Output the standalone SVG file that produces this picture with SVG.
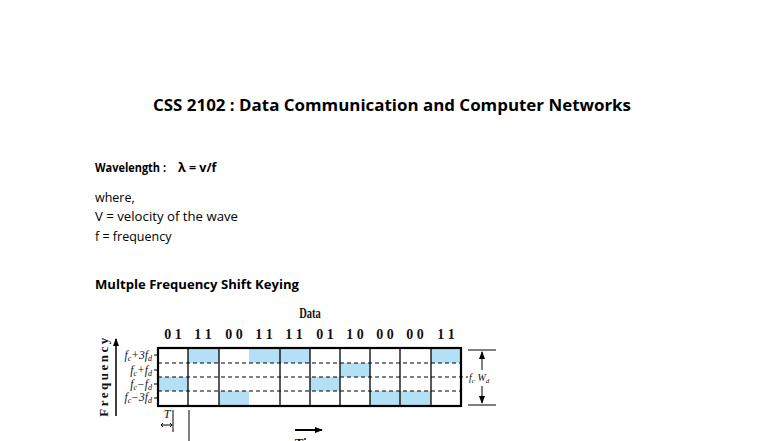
<svg xmlns="http://www.w3.org/2000/svg" width="784" height="441" viewBox="0 0 784 441">
<style>
.t{font-family:"Open Sans","Liberation Sans",Arial,sans-serif;fill:#000}
.s{font-family:"Liberation Serif","Times New Roman",serif;fill:#111}
.sh{fill:#b3e0f5}
.dash{stroke:#000;stroke-width:1;stroke-dasharray:4,3}
.v{stroke:#000;stroke-width:1.3}
</style>
<defs><marker id="ah" markerWidth="8" markerHeight="8" refX="7" refY="4" orient="auto" markerUnits="userSpaceOnUse"><path d="M0,1 L8,4 L0,7 Z" fill="#000"/></marker></defs>
<rect width="784" height="441" fill="#fff"/>
<text class="t" x="392" y="111" font-size="15.5" font-weight="bold" text-anchor="middle" textLength="478" lengthAdjust="spacingAndGlyphs">CSS 2102 : Data Communication and Computer Networks</text>
<text class="t" x="95" y="172" font-size="12.5" font-weight="bold" textLength="71" lengthAdjust="spacingAndGlyphs">Wavelength :</text>
<text class="t" x="178" y="172" font-size="12.5" font-weight="bold">λ = v/f</text>
<text class="t" x="95" y="202" font-size="12.5">where,</text>
<text class="t" x="95" y="221" font-size="12.5" textLength="143" lengthAdjust="spacingAndGlyphs">V = velocity of the wave</text>
<text class="t" x="95" y="241" font-size="12.5">f = frequency</text>
<text class="t" x="95" y="289" font-size="12.5" font-weight="bold" textLength="204" lengthAdjust="spacingAndGlyphs">Multple Frequency Shift Keying</text>
<g id="diagram">
<text class="s" x="310" y="318" font-size="14" font-weight="bold" text-anchor="middle" transform="translate(310 318) scale(0.75 1) translate(-310 -318)">Data</text>
<g class="s" font-size="14" font-weight="bold" text-anchor="middle">
<text x="173" y="339">0 1</text><text x="203" y="339">1 1</text><text x="234" y="339">0 0</text><text x="264" y="339">1 1</text><text x="294" y="339">1 1</text><text x="325" y="339">0 1</text><text x="355" y="339">1 0</text><text x="385" y="339">0 0</text><text x="415" y="339">0 0</text><text x="446" y="339">1 1</text>
</g>
<rect class="sh" x="188" y="348" width="31" height="15"/><rect class="sh" x="249" y="348" width="61" height="15"/><rect class="sh" x="431" y="348" width="30" height="15"/>
<rect class="sh" x="340" y="363" width="30" height="14"/>
<rect class="sh" x="158" y="377" width="30" height="14"/><rect class="sh" x="310" y="377" width="30" height="14"/>
<rect class="sh" x="219" y="391" width="30" height="15"/><rect class="sh" x="370" y="391" width="61" height="15"/>
<line class="dash" x1="158" y1="363" x2="461" y2="363"/><line class="dash" x1="158" y1="377" x2="468" y2="377"/><line class="dash" x1="158" y1="391" x2="461" y2="391"/>
<g class="v"><line x1="188" y1="348" x2="188" y2="406"/><line x1="219" y1="348" x2="219" y2="406"/><line x1="280" y1="348" x2="280" y2="406"/><line x1="310" y1="348" x2="310" y2="406"/><line x1="340" y1="348" x2="340" y2="406"/><line x1="370" y1="348" x2="370" y2="406"/><line x1="400" y1="348" x2="400" y2="406"/><line x1="431" y1="348" x2="431" y2="406"/></g>
<rect x="158" y="348" width="303" height="58" fill="none" stroke="#000" stroke-width="2.2"/>
<g class="s" font-size="11.5" font-style="italic" text-anchor="end">
<text x="152" y="359">f<tspan font-size="8" dy="2">c</tspan><tspan dy="-2">+3f</tspan><tspan font-size="8" dy="2">d</tspan></text>
<text x="152" y="374">f<tspan font-size="8" dy="2">c</tspan><tspan dy="-2">+f</tspan><tspan font-size="8" dy="2">d</tspan></text>
<text x="152" y="388">f<tspan font-size="8" dy="2">c</tspan><tspan dy="-2">−f</tspan><tspan font-size="8" dy="2">d</tspan></text>
<text x="152" y="401">f<tspan font-size="8" dy="2">c</tspan><tspan dy="-2">−3f</tspan><tspan font-size="8" dy="2">d</tspan></text>
</g>
<g stroke="#000"><line x1="154" y1="355" x2="158" y2="355"/><line x1="154" y1="370" x2="158" y2="370"/><line x1="154" y1="384" x2="158" y2="384"/><line x1="154" y1="398" x2="158" y2="398"/></g>
<text class="s" x="0" y="0" font-size="13" font-weight="bold" letter-spacing="2.5" text-anchor="middle" transform="translate(108 376) rotate(-90)">Frequency</text>
<line x1="116" y1="416" x2="116" y2="339" stroke="#000" stroke-width="1.5" marker-end="url(#ah)"/>
<g stroke="#000"><line x1="468" y1="350" x2="496" y2="350"/><line x1="468" y1="405" x2="496" y2="405"/>
<line x1="482" y1="370" x2="482" y2="352" marker-end="url(#ah)"/><line x1="482" y1="386" x2="482" y2="403" marker-end="url(#ah)"/></g>
<text class="s" x="469" y="381" font-size="10" font-style="italic">f<tspan font-size="7" dy="2">c</tspan><tspan dy="-2"> W</tspan><tspan font-size="7" dy="2">d</tspan></text>
<text class="s" x="167" y="418" font-size="12" font-style="italic" text-anchor="middle">T</text>
<g stroke="#000"><path d="M161,425 H172 M163,423 L161,425 L163,427 M170,423 L172,425 L170,427" fill="none"/>
<line x1="173" y1="410" x2="173" y2="432"/><line x1="189" y1="410" x2="189" y2="441"/>
<line x1="295" y1="430" x2="322" y2="430" stroke-width="2" marker-end="url(#ah)"/></g>
<text class="s" x="309" y="447" font-size="13" font-weight="bold" text-anchor="middle">Time</text>
</g>
</svg>
